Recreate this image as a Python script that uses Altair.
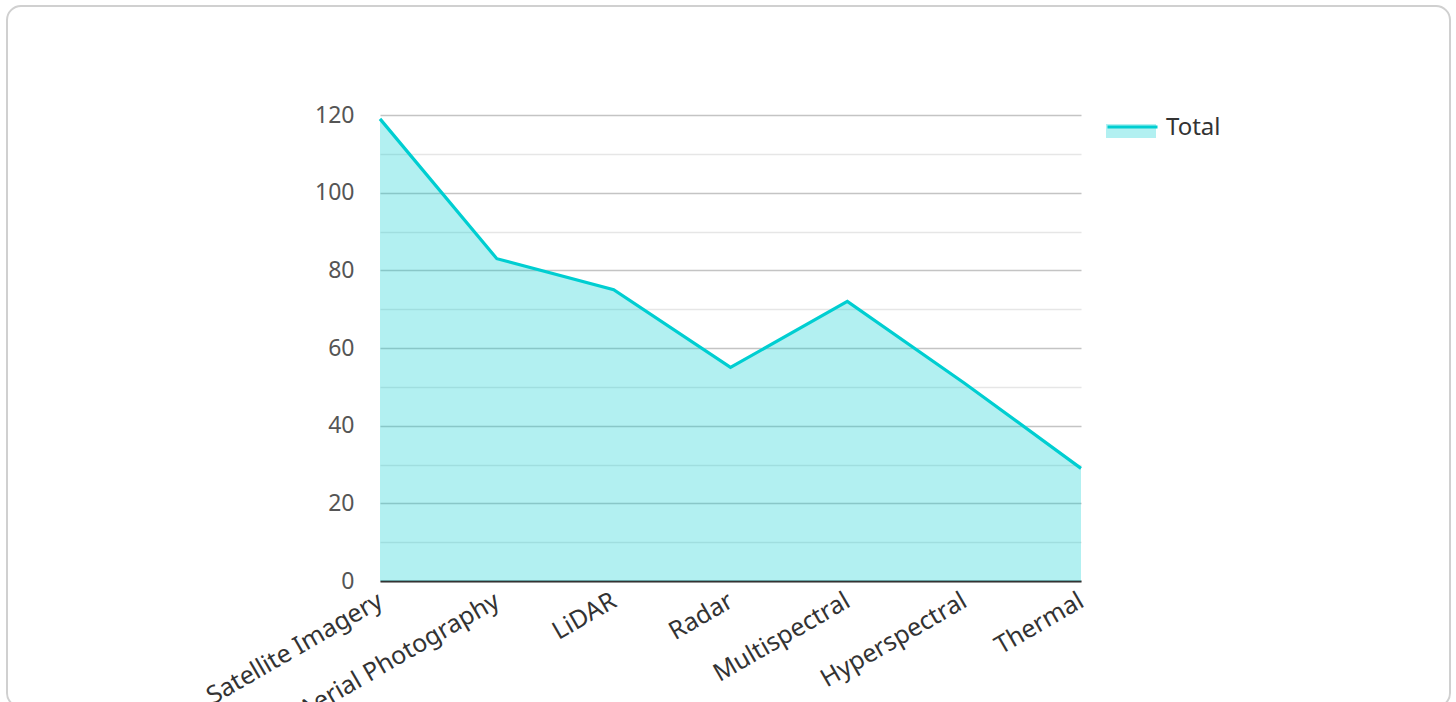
import altair as alt
import pandas as pd

categories = ["Satellite Imagery", "Aerial Photography", "LiDAR", "Radar",
              "Multispectral", "Hyperspectral", "Thermal"]
values = [119, 83, 75, 55, 72, 51, 29]
series_name = "Total"
y_ticks = [0, 10, 20, 30, 40, 50, 60, 70, 80, 90, 100, 110, 120]

TEAL = "#00CED1"
FONT = "Noto Sans"

df = pd.DataFrame({
    "category": categories,
    "value": values,
    "series": [series_name] * len(categories),
    "line_series": [series_name] * len(categories),
})

x_enc = alt.X(
    "category:N", sort=categories,
    scale=alt.Scale(type="point", padding=0),
    axis=alt.Axis(
        title=None, labelAngle=-30, labelAlign="right", labelBaseline="top",
        labelFontSize=25, labelFont=FONT, labelLimit=0, labelOffset=-6,
        labelColor="#333333", ticks=False, tickSize=0, labelPadding=7,
        domainColor="#333333", domainWidth=2, grid=False, labelOverlap=False,
    ),
)
y_enc = alt.Y(
    "value:Q",
    scale=alt.Scale(domain=[0, 120], nice=False),
    axis=alt.Axis(
        title=None, values=y_ticks,
        labelExpr="datum.value % 20 === 0 ? datum.label : ''",
        labelFontSize=23, labelFont=FONT, labelColor="#555555",
        ticks=False, tickSize=0, labelPadding=26, domain=False,
        grid=True,
        gridColor=alt.condition("datum.value % 20 === 0", alt.value("#c4c4c4"), alt.value("#e6e6e6")),
        gridWidth=1.5,
    ),
)

base = alt.Chart(df).encode(x=x_enc, y=y_enc)

legend_common = dict(
    orient="none", legendX=726, legendY=-12, title=None, padding=0,
    symbolSize=2500, labelFontSize=24, labelFont=FONT, labelColor="#333333",
    labelOffset=10,
)

area = base.mark_area(opacity=0.3, interpolate="linear").encode(
    fill=alt.Fill(
        "series:N", scale=alt.Scale(range=[TEAL]),
        legend=alt.Legend(symbolType="M-1,-0.16H1V0.4H-1Z", symbolStrokeWidth=0,
                          **legend_common),
    )
)

line = base.mark_line(strokeWidth=3.2, interpolate="linear").encode(
    stroke=alt.Stroke(
        "line_series:N", scale=alt.Scale(range=[TEAL]),
        legend=alt.Legend(symbolType="M-1,-0.1H1", symbolStrokeWidth=3,
                          labelExpr="''", **legend_common),
    )
)

card = alt.Chart(pd.DataFrame({"k": [0]})).mark_rect(
    fillOpacity=0, stroke="#d0d0d0", strokeWidth=2, cornerRadius=14
).encode(
    x=alt.value(-373), x2=alt.value(1070),
    y=alt.value(-109), y2=alt.value(592),
)

chart = alt.layer(card, area, line).resolve_scale(
    fill="independent", stroke="independent"
).properties(
    width=701, height=466,
    autosize=alt.AutoSizeParams(type="none"),
    padding={"left": 380, "top": 115, "right": 375, "bottom": 121},
    background="white",
).configure_view(stroke=None)

chart.save("out.html", embed_options={"renderer": "svg", "actions": False})
